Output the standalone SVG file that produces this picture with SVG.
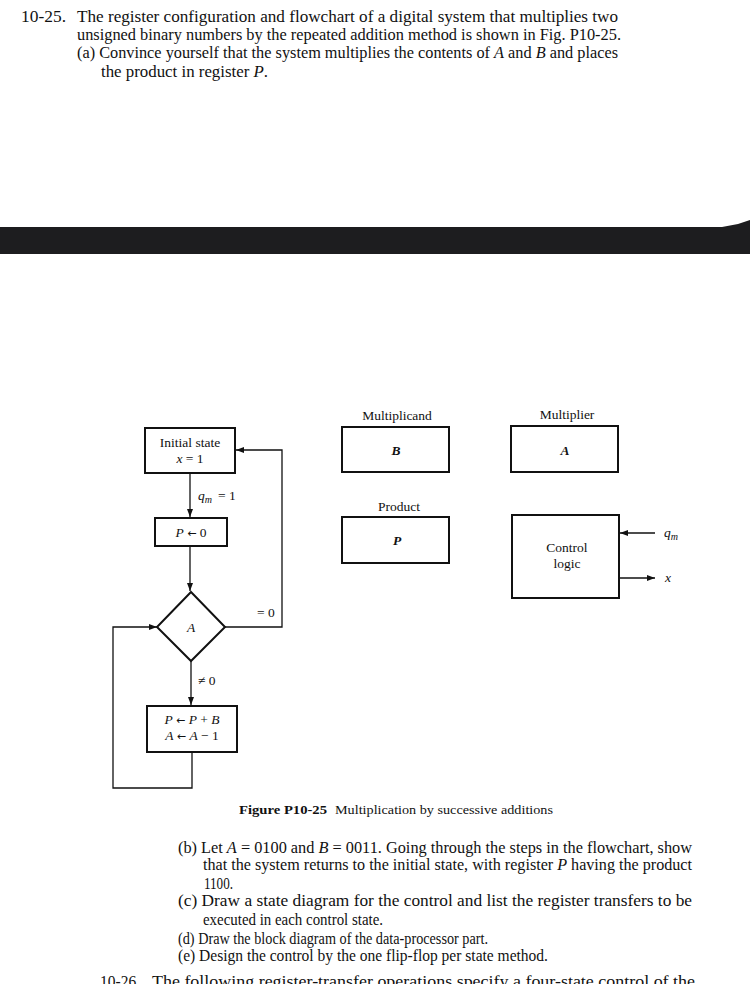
<svg xmlns="http://www.w3.org/2000/svg" width="750" height="984" viewBox="0 0 750 984">
<style>
text{font-family:"Liberation Serif","Times New Roman",serif;fill:#111}
.body{font-size:16px}
.lbl{font-size:13.5px}
.reg{font-size:13.5px}
.it{font-style:italic}
.bi{font-style:italic;font-weight:bold}
.arr{font-family:"DejaVu Sans","Liberation Sans",sans-serif;font-size:11px}
.box{fill:#fff;stroke:#111;stroke-width:2}
.ln{fill:none;stroke:#111;stroke-width:1.3}
</style>
<defs>
<marker id="ah" markerUnits="userSpaceOnUse" markerWidth="9" markerHeight="7" refX="8" refY="3" orient="auto">
<path d="M0,0 L8,3 L0,6 z" fill="#111"/>
</marker>
</defs>
<rect width="750" height="984" fill="#fff"/>

<g id="header-text" class="body">
<text x="21" y="22" textLength="45" lengthAdjust="spacingAndGlyphs">10-25.</text>
<text x="77" y="22" textLength="541" lengthAdjust="spacingAndGlyphs">The register configuration and flowchart of a digital system that multiplies two</text>
<text x="77" y="40" textLength="544" lengthAdjust="spacingAndGlyphs">unsigned binary numbers by the repeated addition method is shown in Fig. P10-25.</text>
<text x="77" y="58" textLength="541" lengthAdjust="spacingAndGlyphs">(a) Convince yourself that the system multiplies the contents of <tspan class="it">A</tspan> and <tspan class="it">B</tspan> and places</text>
<text x="101" y="77" textLength="167" lengthAdjust="spacingAndGlyphs">the product in register <tspan class="it">P</tspan>.</text>
</g>

<g id="black-band">
<rect x="0" y="227" width="750" height="27" fill="#1d1d1f"/>
<path d="M722,227 L738,224 L750,220 L750,228 L722,228 z" fill="#1d1d1f"/>
</g>

<g id="connectors">
<path class="ln" d="M190,473 V517" marker-end="url(#ah)"/>
<path class="ln" d="M190,546 V591" marker-end="url(#ah)"/>
<path class="ln" d="M225,627 H282 V450 H236" marker-end="url(#ah)"/>
<path class="ln" d="M191,661 V705" marker-end="url(#ah)"/>
<path class="ln" d="M192,752 V788 H113 V627 H157" marker-end="url(#ah)"/>
<path class="ln" d="M655,533 H620" marker-end="url(#ah)"/>
<path class="ln" d="M620,578 H655" marker-end="url(#ah)"/>
</g>

<g id="initial-state">
<rect class="box" x="145" y="428" width="90" height="45"/>
<text class="lbl" x="190" y="447" text-anchor="middle">Initial state</text>
<text class="lbl" x="190" y="463" text-anchor="middle"><tspan class="it">x</tspan> = 1</text>
</g>
<g id="label-qm1">
<text class="lbl" x="198" y="500"><tspan class="it">q</tspan><tspan class="it" font-size="10" dy="3">m</tspan><tspan dy="-3" dx="6">= 1</tspan></text>
</g>

<g id="p-clear">
<rect class="box" x="155" y="518" width="72" height="28"/>
<text class="lbl" x="191" y="537" text-anchor="middle"><tspan class="it">P</tspan> <tspan class="arr">←</tspan> 0</text>
</g>

<g id="decision-a">
<path class="box" d="M191,592 L225,627 L191,661 L157,627 z"/>
<text class="lbl it" x="191" y="632" text-anchor="middle">A</text>
</g>
<g id="label-eq0">
<text class="lbl" x="257" y="617">= 0</text>
</g>
<g id="label-ne0">
<text class="lbl" x="198" y="685">≠ 0</text>
</g>

<g id="add-step">
<rect class="box" x="147" y="706" width="90" height="46"/>
<text class="lbl" x="192" y="724" text-anchor="middle"><tspan class="it">P</tspan> <tspan class="arr">←</tspan> <tspan class="it">P</tspan> + <tspan class="it">B</tspan></text>
<text class="lbl" x="192" y="740" text-anchor="middle"><tspan class="it">A</tspan> <tspan class="arr">←</tspan> <tspan class="it">A</tspan> − 1</text>
</g>

<g id="reg-b">
<text class="reg" x="397" y="420" text-anchor="middle">Multiplicand</text>
<rect class="box" x="342" y="427" width="107" height="45"/>
<text class="reg bi" x="396" y="455" text-anchor="middle">B</text>
</g>
<g id="reg-a">
<text class="reg" x="567" y="419" text-anchor="middle">Multiplier</text>
<rect class="box" x="511" y="426" width="107" height="46"/>
<text class="reg bi" x="565" y="455" text-anchor="middle">A</text>
</g>
<g id="reg-p">
<text class="reg" x="399" y="511" text-anchor="middle">Product</text>
<rect class="box" x="342" y="517" width="107" height="46"/>
<text class="reg bi" x="397" y="545" text-anchor="middle">P</text>
</g>
<g id="control-logic">
<rect class="box" x="512" y="515" width="107" height="83"/>
<text class="reg" x="567" y="552" text-anchor="middle" font-size="14">Control</text>
<text class="reg" x="567" y="568" text-anchor="middle" font-size="14">logic</text>
</g>
<g id="label-qm">
<text class="lbl it" x="664" y="537">q<tspan font-size="10" dy="3">m</tspan></text>
</g>
<g id="label-x">
<text class="lbl it" x="665" y="582">x</text>
</g>

<g id="caption">
<text x="239" y="814" font-size="12.5" font-weight="bold" textLength="88" lengthAdjust="spacingAndGlyphs">Figure P10-25</text>
<text x="335" y="814" font-size="13" textLength="218" lengthAdjust="spacingAndGlyphs">Multiplication by successive additions</text>
</g>

<g id="footer-text" class="body">
<text x="178" y="853" textLength="514" lengthAdjust="spacingAndGlyphs">(b) Let <tspan class="it">A</tspan> = 0100 and <tspan class="it">B</tspan> = 0011. Going through the steps in the flowchart, show</text>
<text x="203" y="870" textLength="489" lengthAdjust="spacingAndGlyphs">that the system returns to the initial state, with register <tspan class="it">P</tspan> having the product</text>
<text x="204" y="889" textLength="29" lengthAdjust="spacingAndGlyphs">1100.</text>
<text x="178" y="906" textLength="514" lengthAdjust="spacingAndGlyphs">(c) Draw a state diagram for the control and list the register transfers to be</text>
<text x="203" y="925" textLength="180" lengthAdjust="spacingAndGlyphs">executed in each control state.</text>
<text x="178" y="944" textLength="310" lengthAdjust="spacingAndGlyphs">(d) Draw the block diagram of the data-processor part.</text>
<text x="178" y="961" textLength="370" lengthAdjust="spacingAndGlyphs">(e) Design the control by the one flip-flop per state method.</text>
<text x="100" y="987" textLength="40" lengthAdjust="spacingAndGlyphs">10-26.</text>
<text x="152" y="987" textLength="543" lengthAdjust="spacingAndGlyphs">The following register-transfer operations specify a four-state control of the</text>
</g>
</svg>
